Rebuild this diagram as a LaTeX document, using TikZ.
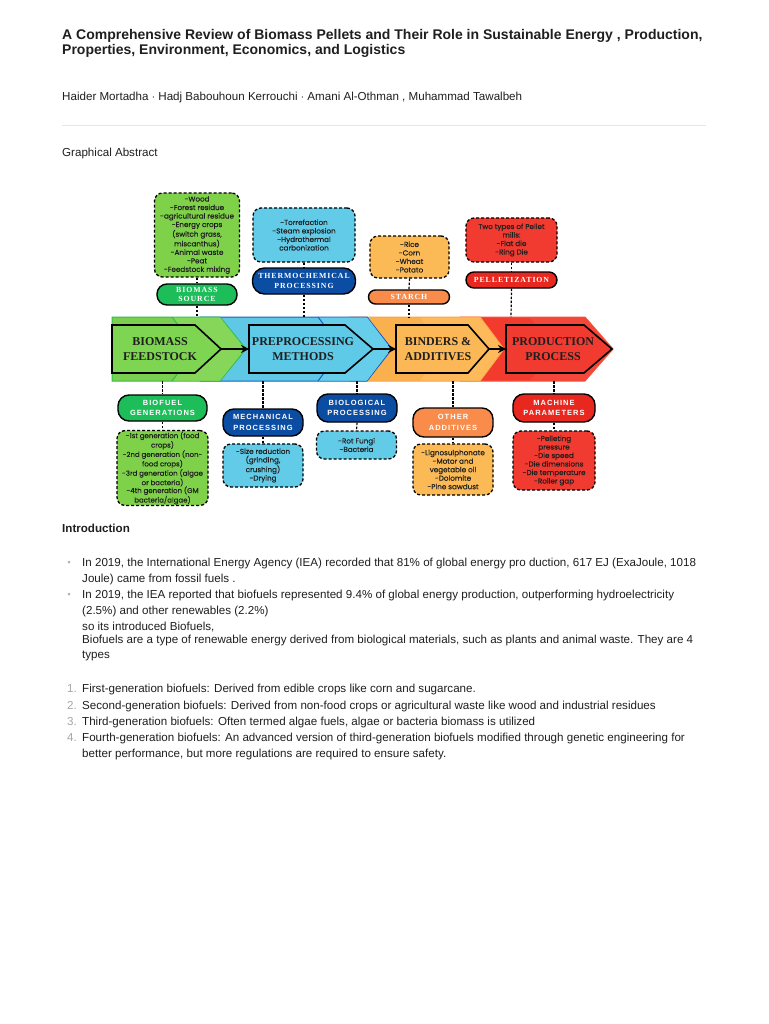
\documentclass[tikz,border=0pt]{standalone}
\usepackage{fontspec}
\setmainfont{Liberation Sans}
\newfontfamily\bandfont{Liberation Serif}
\newfontfamily\pillserif[LetterSpace=12]{Liberation Serif}
\newfontfamily\pillsans[LetterSpace=14]{Liberation Sans}
\newfontfamily\boxfont[FakeBold=0.25]{Poppins}
\usetikzlibrary{arrows.meta}
\definecolor{gA}{HTML}{7CCF4E}\definecolor{gB}{HTML}{86D65A}\definecolor{gO}{HTML}{2DBE4E}
\definecolor{bA}{HTML}{5EC8E5}\definecolor{bB}{HTML}{66CDEA}\definecolor{bO}{HTML}{1C5EC6}
\definecolor{oA}{HTML}{FBB04E}\definecolor{oB}{HTML}{FDB95A}\definecolor{oO}{HTML}{F9A448}
\definecolor{rA}{HTML}{F23A2D}\definecolor{rB}{HTML}{F4473A}\definecolor{rO}{HTML}{F25A3E}
\definecolor{nG}{HTML}{7ED552}\definecolor{nB}{HTML}{5FCAE7}\definecolor{nO}{HTML}{FCB757}\definecolor{nR}{HTML}{F23B30}
\definecolor{pG}{HTML}{1DBE5A}\definecolor{pB}{HTML}{0B4DA2}\definecolor{pO}{HTML}{F98C4B}\definecolor{pR}{HTML}{E8281E}
\definecolor{xG}{HTML}{7FD14A}\definecolor{xB}{HTML}{62CBE8}\definecolor{xO}{HTML}{FBBA55}\definecolor{xR}{HTML}{F23B30}
\definecolor{txt}{HTML}{1F1F1F}
\begin{document}
\begin{tikzpicture}[x=1pt,y=-1pt,
  body/.style={anchor=base west, inner sep=0pt, font=\fontsize{11.6}{14}\selectfont, text=txt},
  numlab/.style={anchor=base east, inner sep=0pt, font=\fontsize{11.6}{14}\selectfont, text=black!35},
  bdot/.style={circle, fill=black!30, inner sep=0pt, minimum size=3pt},
  dbox/.style={draw=black, dash pattern=on 3pt off 2pt, line width=1.3pt, rounded corners=8pt, align=center, inner sep=1pt, font=\boxfont\fontsize{7.2}{8.5}\selectfont, text=txt},
  pilltop/.style={draw=black, line width=1.4pt, rounded corners=8pt, align=center, inner sep=1pt, text=white, font=\pillserif\bfseries\fontsize{7.8}{9.5}\selectfont},
  pilllow/.style={draw=black, line width=1.4pt, rounded corners=11pt, align=center, inner sep=1pt, text=white, font=\pillsans\bfseries\fontsize{7.5}{10.5}\selectfont},
  conn/.style={draw=black, line width=1.2pt, dash pattern=on 2.5pt off 1.5pt},
  bandnode/.style={draw=black, line width=1.6pt, line join=miter},
  bandtxt/.style={align=center, inner sep=0pt, text=txt, font=\bandfont\bfseries\fontsize{12}{14.5}\selectfont},
  flow/.style={draw=black, line width=1.6pt, -{Stealth[length=8pt,width=8pt]}}
]
\useasboundingbox (0,0) rectangle (768,1024);
\fill[white] (0,0) rectangle (768,1024);

% ---------- header ----------
\node[anchor=base west, inner sep=0pt, align=left, font=\bfseries\fontsize{14}{15.5}\selectfont, text=txt] (title) at (62,55)
  {A Comprehensive Review of Biomass Pellets and Their Role in Sustainable Energy , Production,\\Properties, Environment, Economics, and Logistics};
\node[body] (authors) at (62,101) {Haider Mortadha $\cdot$ Hadj Babouhoun Kerrouchi $\cdot$ Amani Al-Othman , Muhammad Tawalbeh};
\draw[black!10, line width=1pt] (62,126) -- (706,126);
\node[body] (ga) at (62,157) {Graphical Abstract};

% ---------- band ----------
\fill[rA, draw=rO, line width=1pt] (460,317) -- (585,317) -- (613,349) -- (585,381) -- (460,381) -- cycle;
\fill[rB] (530,317.5) -- (585,317.5) -- (612,349) -- (585,380.5) -- (530,380.5) -- (556,349) -- cycle;
\fill[oA, draw=oO, line width=1pt] (350,317) -- (480,317) -- (504,349) -- (480,381) -- (350,381) -- cycle;
\fill[oB] (420,317.5) -- (480,317.5) -- (503,349) -- (480,380.5) -- (420,380.5) -- (444,349) -- cycle;
\fill[bA, draw=bO, line width=1pt] (200,317) -- (367,317) -- (392,349) -- (367,381) -- (200,381) -- cycle;
\fill[bB] (318,317.5) -- (367,317.5) -- (391,349) -- (367,380.5) -- (318,380.5) -- (342,349) -- cycle;
\draw[bO, line width=1pt] (318,317) -- (342,349) -- (318,381);
\fill[gA, draw=gO, line width=1pt] (112,317) -- (220,317) -- (246,349) -- (220,381) -- (112,381) -- cycle;
\fill[gB] (172,317.5) -- (220,317.5) -- (245,349) -- (220,380.5) -- (172,380.5) -- (196,349) -- cycle;
\draw[gO, line width=1pt] (172,317) -- (196,349) -- (172,381);

\draw[bandnode, fill=nG] (112,325) -- (195,325) -- (221,349) coordinate (f1tip) -- (195,373) -- (112,373) -- cycle;
\draw[bandnode, fill=nB] (249,325) -- (345,325) -- (373,349) coordinate (f2tip) -- (345,373) -- (249,373) -- cycle;
\draw[bandnode, fill=nO] (396,325) -- (468,325) -- (489,349) coordinate (f3tip) -- (468,373) -- (396,373) -- cycle;
\draw[bandnode, fill=nR] (506,325) -- (584,325) -- (612,349) -- (584,373) -- (506,373) -- cycle;
\coordinate (f2left) at (249,349);
\coordinate (f3left) at (396,349);
\coordinate (f4left) at (506,349);
\node[bandtxt] (t1) at (160,349) {BIOMASS\\FEEDSTOCK};
\node[bandtxt] (t2) at (303,349) {PREPROCESSING\\METHODS};
\node[bandtxt] (t3) at (438,349) {BINDERS \&\\ADDITIVES};
\node[bandtxt] (t4) at (553,349) {PRODUCTION\\PROCESS};
\draw[flow] (f1tip) -- (f2left);
\draw[flow] (f2tip) -- (f3left);
\draw[flow] (f3tip) -- (f4left);

% band attachment points
\coordinate (u1) at (197,317);
\coordinate (u2) at (304,317);
\coordinate (u3) at (409,317);
\coordinate (u4) at (511,317);
\coordinate (l1) at (162.5,381);
\coordinate (l2) at (263,381);
\coordinate (l3) at (357,381);
\coordinate (l4) at (453,381);
\coordinate (l5) at (554,381);

% ---------- upper boxes ----------
\node[dbox, fill=xG, minimum width=85, minimum height=84] (bx1) at (197,235)
  {-Wood\\-Forest residue\\-agricultural residue\\-Energy crops\\(switch grass,\\miscanthus)\\-Animal waste\\-Peat\\-Feedstock mixing};
\node[pilltop, fill=pG, minimum width=80, minimum height=21, rounded corners=10pt] (p1) at (197,294.5) {BIOMASS\\SOURCE};
\node[dbox, fill=xB, minimum width=102, minimum height=54] (bx2) at (304,235)
  {-Torrefaction\\-Steam explosion\\-Hydrothermal\\carbonization};
\node[pilltop, fill=pB, minimum width=103, minimum height=26, rounded corners=12pt] (p2) at (304,281) {THERMOCHEMICAL\\PROCESSING};
\node[dbox, fill=xO, minimum width=79, minimum height=42] (bx3) at (409.5,257)
  {-Rice\\-Corn\\-Wheat\\-Potato};
\node[pilltop, fill=pO, minimum width=81, minimum height=14, rounded corners=7pt] (p3) at (409,297) {STARCH};
\node[dbox, fill=xR, minimum width=91, minimum height=44] (bx4) at (511.5,240)
  {Two types of Pellet\\mills:\\-Flat die\\-Ring Die};
\node[pilltop, fill=pR, minimum width=91, minimum height=16, rounded corners=8pt] (p4) at (511.5,280) {PELLETIZATION};

\draw[conn] (bx1.south) -- (p1.north);
\draw[conn] (p1.south) -- (u1);
\draw[conn] (bx2.south) -- (p2.north);
\draw[conn] (p2.south) -- (u2);
\draw[conn] (bx3.south) -- (p3.north);
\draw[conn] (p3.south) -- (u3);
\draw[conn] (bx4.south) -- (p4.north);
\draw[conn] (p4.south) -- (u4);

% ---------- lower boxes ----------
\node[pilllow, fill=pG, minimum width=89, minimum height=26] (q1) at (162.5,408) {BIOFUEL\\GENERATIONS};
\node[dbox, fill=xG, minimum width=91, minimum height=70, font=\boxfont\fontsize{7}{7.9}\selectfont] (cx1) at (162.5,468)
  {-1st generation (food\\crops)\\-2nd generation (non-\\food crops)\\-3rd generation (algae\\or bacteria)\\-4th generation (GM\\bacteria/algae)};
\node[pilllow, fill=pB, minimum width=80, minimum height=27] (q2) at (263,422.5) {MECHANICAL\\PROCESSING};
\node[dbox, fill=xB, minimum width=80, minimum height=43] (cx2) at (263,465.5)
  {-Size reduction\\(grinding,\\crushing)\\-Drying};
\node[pilllow, fill=pB, minimum width=80, minimum height=28] (q3) at (357,408) {BIOLOGICAL\\PROCESSING};
\node[dbox, fill=xB, minimum width=80, minimum height=28] (cx3) at (356.5,445)
  {-Rot Fungi\\-Bacteria};
\node[pilllow, fill=pO, minimum width=80, minimum height=29] (q4) at (453,422.5) {OTHER\\ADDITIVES};
\node[dbox, fill=xO, minimum width=80, minimum height=51] (cx4) at (453,469.5)
  {-Lignosulphonate\\-Motor and\\vegetable oil\\-Dolomite\\-Pine sawdust};
\node[pilllow, fill=pR, minimum width=82, minimum height=28] (q5) at (554,408) {MACHINE\\PARAMETERS};
\node[dbox, fill=xR, minimum width=82, minimum height=59] (cx5) at (554,460.5)
  {-Pelleting\\pressure\\-Die speed\\-Die dimensions\\-Die temperature\\-Roller gap};

\draw[conn] (l1) -- (q1.north);
\draw[conn] (q1.south) -- (cx1.north);
\draw[conn] (l2) -- (q2.north);
\draw[conn] (q2.south) -- (cx2.north);
\draw[conn] (l3) -- (q3.north);
\draw[conn] (q3.south) -- (cx3.north);
\draw[conn] (l4) -- (q4.north);
\draw[conn] (q4.south) -- (cx4.north);
\draw[conn] (l5) -- (q5.north);
\draw[conn] (q5.south) -- (cx5.north);

% ---------- text ----------
\node[body, font=\bfseries\fontsize{11.6}{14}\selectfont] (intro) at (62,532) {Introduction};
\node[bdot] (d1) at (69,562) {};
\node[body] (s1) at (82,566) {In 2019, the International Energy Agency (IEA) recorded that 81\% of global energy pro duction, 617 EJ (ExaJoule, 1018};
\node[body] (s2) at (82,582) {Joule) came from fossil fuels .};
\node[bdot] (d2) at (69,594) {};
\node[body] (s3) at (82,598) {In 2019, the IEA reported that biofuels represented 9.4\% of global energy production, outperforming hydroelectricity};
\node[body] (s4) at (82,614) {(2.5\%) and other renewables (2.2\%)};
\node[body] (s5) at (82,630) {so its introduced Biofuels,};
\node[body] (s6) at (82,643) {Biofuels are a type of renewable energy derived from biological materials, such as plants and animal waste. They are 4};
\node[body] (s7) at (82,658) {types};

\node[numlab] (m1) at (77,692) {1.};
\node[body] (r1) at (82,692) {First-generation biofuels: Derived from edible crops like corn and sugarcane.};
\node[numlab] (m2) at (77,709) {2.};
\node[body] (r2) at (82,709) {Second-generation biofuels: Derived from non-food crops or agricultural waste like wood and industrial residues};
\node[numlab] (m3) at (77,725) {3.};
\node[body] (r3) at (82,725) {Third-generation biofuels: Often termed algae fuels, algae or bacteria biomass is utilized};
\node[numlab] (m4) at (77,741) {4.};
\node[body] (r4) at (82,741) {Fourth-generation biofuels: An advanced version of third-generation biofuels modified through genetic engineering for};
\node[body] (r5) at (82,757) {better performance, but more regulations are required to ensure safety.};
\end{tikzpicture}
\end{document}
